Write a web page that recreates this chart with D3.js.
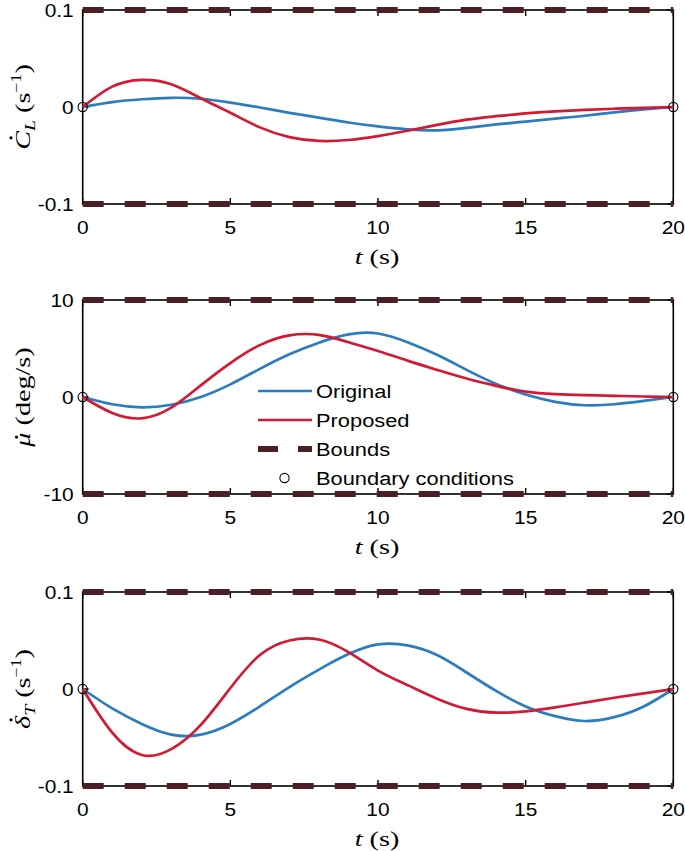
<!DOCTYPE html>
<html><head><meta charset="utf-8">
<script src="https://cdn.jsdelivr.net/npm/d3@7"></script>
<style>body{margin:0;background:#fff}svg{display:block}</style>
</head><body>
<script>
// ---- data ----
const T = [0,1,2,3,4,5,6,7,8,9,10,11,12,13,14,15,16,17,18,19,20];
const clOriginal = [0,0.005,0.008,0.0095,0.0085,0.0045,-0.0005,-0.006,-0.011,-0.016,-0.020,-0.023,-0.024,-0.0215,-0.018,-0.015,-0.012,-0.009,-0.0055,-0.0025,0];
const clProposed = [0,0.021,0.028,0.0235,0.009,-0.006,-0.021,-0.031,-0.035,-0.034,-0.030,-0.0245,-0.0185,-0.013,-0.0095,-0.0065,-0.0045,-0.003,-0.0018,-0.0008,0];
const muOriginal = [0,-0.75,-1.06,-0.8,0.0,1.3,2.9,4.4,5.6,6.45,6.55,5.65,4.35,2.8,1.35,0.25,-0.5,-0.85,-0.75,-0.4,0];
const muProposed = [0,-1.65,-2.2,-1.1,1.2,3.5,5.35,6.35,6.4,5.65,4.75,3.75,2.8,1.9,1.15,0.55,0.3,0.2,0.12,0.05,0];
const dtOriginal = [0,-0.02,-0.036,-0.047,-0.047,-0.036,-0.018,0.002,0.02,0.036,0.046,0.045,0.035,0.017,-0.002,-0.018,-0.028,-0.033,-0.029,-0.018,0];
const dtProposed = [0,-0.045,-0.068,-0.062,-0.037,0.001,0.035,0.050,0.051,0.038,0.019,0.004,-0.010,-0.0205,-0.0244,-0.023,-0.019,-0.014,-0.009,-0.0045,0];
const xTicks = [0,5,10,15,20];
const clTicks = [-0.1,0,0.1];
const muTicks = [-10,0,10];
const dtTicks = [-0.1,0,0.1];
const clTickLabels = ["-0.1","0","0.1"];
const muTickLabels = ["-10","0","10"];
const dtTickLabels = ["-0.1","0","0.1"];
const clBounds = [-0.1,0.1];
const muBounds = [-10,10];
const dtBounds = [-0.1,0.1];
const bcTimes = [0,20];
const bcValues = [0,0];
const legendLabels = ["Original","Proposed","Bounds","Boundary conditions"];

// ---- styles ----
const W = 685, H = 851;
const BLUE = "#2b7cc1", RED = "#d31a35", BOUND = "#4b1f25";
const SANS = "Liberation Sans, Arial, sans-serif";
const SERIF = "Liberation Serif, Times New Roman, serif";
const NUM_FS = 19, NUM_SX = 1.1;
const LAB_FS = 22, LAB_SX = 1.28;

const svg = d3.select("body").append("svg").attr("width", W).attr("height", H);
const x = d3.scaleLinear().domain([0,20]).range([82.7,673.3]);

function sansText(parent, tx, ty, anchor, str, sx) {
  return parent.append("text").attr("transform",`translate(${tx},${ty}) scale(${sx},1)`)
    .attr("text-anchor",anchor).attr("font-family",SANS).attr("font-size",NUM_FS).text(str);
}

const panels = [
  {top:10, bottom:204, dom:[-0.1,0.1], ticks:clTicks, labels:clTickLabels, orig:clOriginal, prop:clProposed, bounds:clBounds, label:"cl"},
  {top:300, bottom:494, dom:[-10,10], ticks:muTicks, labels:muTickLabels, orig:muOriginal, prop:muProposed, bounds:muBounds, label:"mu", legend:true},
  {top:592, bottom:786, dom:[-0.1,0.1], ticks:dtTicks, labels:dtTickLabels, orig:dtOriginal, prop:dtProposed, bounds:dtBounds, label:"dt"}
];

panels.forEach(p => {
  const y = d3.scaleLinear().domain(p.dom).range([p.bottom, p.top]);
  const g = svg.append("g");
  const x0 = x.range()[0], x1 = x.range()[1];

  g.append("rect").attr("x", x0).attr("y", p.top).attr("width", x1-x0).attr("height", p.bottom-p.top)
    .attr("fill","none").attr("stroke","#000").attr("stroke-width",1.6);

  xTicks.forEach(t => {
    g.append("line").attr("x1",x(t)).attr("x2",x(t)).attr("y1",p.bottom).attr("y2",p.bottom-6).attr("stroke","#000").attr("stroke-width",1.4);
    g.append("line").attr("x1",x(t)).attr("x2",x(t)).attr("y1",p.top).attr("y2",p.top+6).attr("stroke","#000").attr("stroke-width",1.4);
    sansText(g, x(t), p.bottom+30, "middle", t, NUM_SX);
  });
  p.ticks.forEach((v,i) => {
    g.append("line").attr("x1",x0).attr("x2",x0+6).attr("y1",y(v)).attr("y2",y(v)).attr("stroke","#000").attr("stroke-width",1.4);
    g.append("line").attr("x1",x1).attr("x2",x1-6).attr("y1",y(v)).attr("y2",y(v)).attr("stroke","#000").attr("stroke-width",1.4);
    sansText(g, x0-9, y(v)+6.8, "end", p.labels[i], NUM_SX);
  });

  const line = d3.line().x((d,i)=>x(T[i])).y(d=>y(d)).curve(d3.curveNatural);
  g.append("path").datum(p.orig).attr("d",line).attr("fill","none").attr("stroke",BLUE).attr("stroke-width",2.7);
  g.append("path").datum(p.prop).attr("d",line).attr("fill","none").attr("stroke",RED).attr("stroke-width",2.7);

  p.bounds.forEach(b => {
    g.append("line").attr("x1",x0).attr("x2",x1).attr("y1",y(b)).attr("y2",y(b))
      .attr("stroke",BOUND).attr("stroke-width",6).attr("stroke-dasharray","21,21");
  });

  bcTimes.forEach((t,i) => {
    g.append("circle").attr("cx",x(t)).attr("cy",y(bcValues[i])).attr("r",4.6)
      .attr("fill","none").attr("stroke","#000").attr("stroke-width",1.1);
  });

  // x label
  const xl = g.append("text").attr("transform",`translate(${x(10)-1},${p.bottom+60}) scale(${LAB_SX},1)`)
    .attr("text-anchor","middle").attr("font-family",SERIF).attr("font-size",LAB_FS);
  xl.append("tspan").attr("font-style","italic").text("t");
  xl.append("tspan").text(" (s)");

  // y label with manually placed dot accent
  const cy = (p.top+p.bottom)/2;
  const yg = g.append("g").attr("transform",`translate(30,${cy}) rotate(-90) scale(${LAB_SX},1)`);
  const yl = yg.append("text").attr("x",0).attr("y",0).attr("text-anchor","middle")
    .attr("font-family",SERIF).attr("font-size",LAB_FS);
  let dotH;
  if (p.label === "cl") {
    yl.append("tspan").attr("font-style","italic").text("C");
    yl.append("tspan").attr("font-style","italic").attr("font-size",15.5).attr("dy",4.5).text("L");
    yl.append("tspan").attr("dy",-4.5).text(" (s");
    yl.append("tspan").attr("font-size",14).attr("dy",-9.5).text("\u22121");
    yl.append("tspan").attr("dy",9.5).text(")");
    dotH = 19;
  } else if (p.label === "mu") {
    yl.append("tspan").attr("font-style","italic").text("\u03BC");
    yl.append("tspan").text(" (deg/s)");
    dotH = 13.5;
  } else {
    yl.append("tspan").attr("font-style","italic").text("\u03B4");
    yl.append("tspan").attr("font-style","italic").attr("font-size",15.5).attr("dy",4.5).text("T");
    yl.append("tspan").attr("dy",-4.5).text(" (s");
    yl.append("tspan").attr("font-size",14).attr("dy",-9.5).text("\u22121");
    yl.append("tspan").attr("dy",9.5).text(")");
    dotH = 19;
  }
  const ext = yl.node().getExtentOfChar(0);
  yg.append("ellipse").attr("cx", ext.x + ext.width/2 + 2).attr("cy", -dotH).attr("rx",1.6/LAB_SX).attr("ry",1.6).attr("fill","#000");

  if (p.legend) {
    const lx0 = 258, lx1 = 312, tx = 316, rows = [391, 420, 449, 478];
    const lg = g.append("g");
    lg.append("line").attr("x1",lx0).attr("x2",lx1).attr("y1",rows[0]).attr("y2",rows[0]).attr("stroke",BLUE).attr("stroke-width",2.7);
    lg.append("line").attr("x1",lx0).attr("x2",lx1).attr("y1",rows[1]).attr("y2",rows[1]).attr("stroke",RED).attr("stroke-width",2.7);
    lg.append("line").attr("x1",lx0).attr("x2",lx1).attr("y1",rows[2]).attr("y2",rows[2]).attr("stroke",BOUND).attr("stroke-width",6).attr("stroke-dasharray","20,20");
    lg.append("circle").attr("cx",284.5).attr("cy",rows[3]).attr("r",4.6).attr("fill","none").attr("stroke","#000").attr("stroke-width",1.1);
    legendLabels.forEach((l,i) => sansText(lg, tx, rows[i]+6.8, "start", l, 1.15));
  }
});
</script>
</body></html>
